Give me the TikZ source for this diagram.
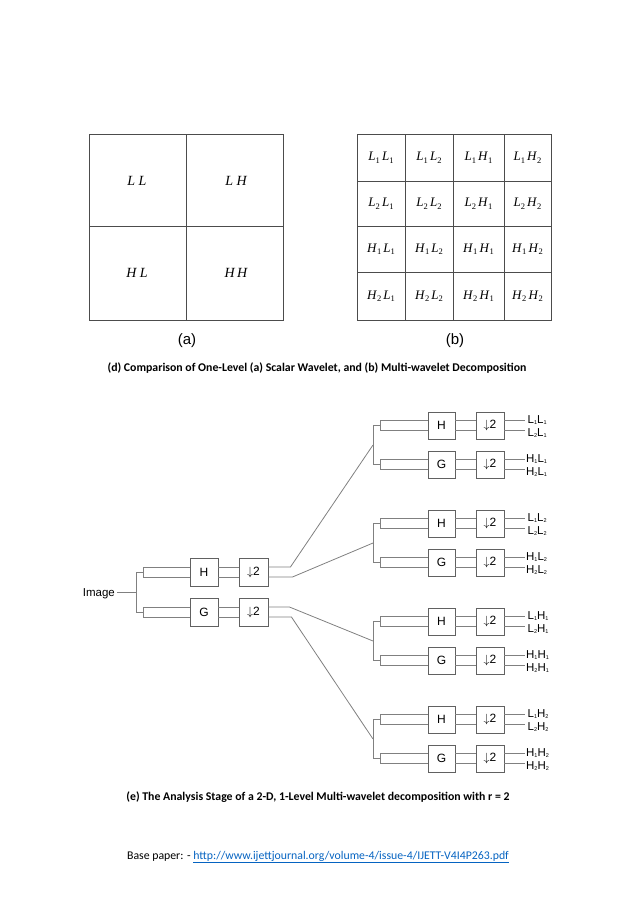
\documentclass[tikz,border=0pt]{standalone}
\usepackage{fontspec}
\setmainfont{Liberation Serif}
\newfontfamily\arialf{Liberation Sans}
\newfontfamily\calif{Carlito}
\usetikzlibrary{calc}
\definecolor{lngray}{gray}{0.5}
\definecolor{bxgray}{gray}{0.38}
\definecolor{gridgray}{gray}{0.3}
\definecolor{linkblue}{RGB}{5,99,193}
\newcommand{\tsub}[1]{\raisebox{-1.8pt}{\fontsize{5.5}{6}\selectfont #1}}
\newcommand{\csub}[1]{\raisebox{-2.5pt}{\fontsize{8.5}{9}\selectfont #1}}
\begin{document}
\begin{tikzpicture}[x=1pt,y=-1pt,
  ln/.style={draw=lngray,line width=0.8pt},
  gridln/.style={draw=gridgray,line width=0.9pt},
  fbox/.style={draw=bxgray,line width=0.9pt,minimum width=27pt,minimum height=27pt,inner sep=0pt,font=\arialf\fontsize{12}{13}\selectfont},
  celltxt/.style={font=\fontsize{14}{16}\selectfont\itshape},
  mcell/.style={font=\fontsize{13}{15}\selectfont},
  sublbl/.style={font=\arialf\fontsize{15}{17}\selectfont},
  outlbl/.style={anchor=base west,inner sep=0pt,font=\arialf\fontsize{11.5}{12}\selectfont},
  capt/.style={font=\calif\bfseries\fontsize{11.8}{13}\selectfont}]
\useasboundingbox (0,0) rectangle (638,902);

% ---------- (a) scalar wavelet grid ----------
\draw[gridln] (89,134) rectangle (283,320);
\draw[gridln] (186,134) -- (186,320);
\draw[gridln] (89,226) -- (283,226);
\node[celltxt] (aLL) at (137,181) {L\ L};
\node[celltxt] (aLH) at (236,181) {L\ H};
\node[celltxt] (aHL) at (137,273) {H\ L};
\node[celltxt] (aHH) at (236,273) {H\,H};
\node[sublbl] (acap) at (187,341) {(a)};

% ---------- (b) multiwavelet grid ----------
\draw[gridln] (357,134) rectangle (551,320);
\foreach \xx in {405,453,504} \draw[gridln] (\xx,134) -- (\xx,320);
\foreach \yy in {181,226,272} \draw[gridln] (357,\yy) -- (551,\yy);
\newcommand{\mc}[4]{\textit{#1}\csub{#2}\,\textit{#3}\csub{#4}}
\foreach \r/\ra/\rb/\yy in {1/L/1/157.5, 2/L/2/203.5, 3/H/1/249, 4/H/2/296}{
  \foreach \c/\ca/\cb/\xx in {1/L/1/381, 2/L/2/429, 3/H/1/478.5, 4/H/2/527.5}{
    \node[mcell] (b\r\c) at (\xx,\yy) {\mc{\ra}{\rb}{\ca}{\cb}};
  }
}
\node[sublbl] (bcap) at (455,341) {(b)};

\node[capt] (dcap) at (317,368) {(d) Comparison of One-Level (a) Scalar Wavelet, and (b) Multi-wavelet Decomposition};

% ---------- (e) analysis stage ----------
\node[anchor=base east,inner sep=2pt,font=\arialf\fontsize{11.5}{13}\selectfont] (img) at (117,596) {Image};
\coordinate (jt) at (136,572);
\coordinate (jm) at (136,592);
\coordinate (jb) at (136,612);
\draw[ln] (img.east |- jm) -- (jm);
\draw[ln] (jt) -- (jb);

\node[fbox,minimum width=28pt,minimum height=28pt] (H0) at (204,572) {H};
\node[fbox,minimum width=29pt,minimum height=28pt] (D0) at (253.5,572) {$\downarrow$2};
\node[fbox,minimum width=28pt,minimum height=28pt] (G0) at (204,612) {G};
\node[fbox,minimum width=29pt,minimum height=28pt] (E0) at (253.5,612) {$\downarrow$2};

\coordinate (bt0) at (143,572);
\coordinate (bb0) at (143,612);
\draw[ln] (jt) -- (bt0);
\draw[ln] (jb) -- (bb0);
\draw[ln] ([yshift=5pt]H0.west) -- ([yshift=5pt]H0.west -| bt0) -- ([yshift=-5pt]H0.west -| bt0) -- ([yshift=-5pt]H0.west);
\draw[ln] ([yshift=5pt]G0.west) -- ([yshift=5pt]G0.west -| bb0) -- ([yshift=-5pt]G0.west -| bb0) -- ([yshift=-5pt]G0.west);
\draw[ln] ([yshift=5pt]H0.east) -- ([yshift=5pt]D0.west);
\draw[ln] ([yshift=-5pt]H0.east) -- ([yshift=-5pt]D0.west);
\draw[ln] ([yshift=5pt]G0.east) -- ([yshift=5pt]E0.west);
\draw[ln] ([yshift=-5pt]G0.east) -- ([yshift=-5pt]E0.west);

\foreach \k/\sa/\sb in {1/L/1, 2/L/2, 3/H/1, 4/H/2}{
  \pgfmathsetmacro{\cH}{425.5+98*(\k-1)}
  \pgfmathsetmacro{\cG}{\cH+39}
  \pgfmathsetmacro{\cM}{\cH+19.5}
  \node[fbox] (H\k) at (441.5,\cH) {H};
  \node[fbox,minimum width=28pt] (D\k) at (490,\cH) {$\downarrow$2};
  \node[fbox] (G\k) at (441.5,\cG) {G};
  \node[fbox,minimum width=28pt] (E\k) at (490,\cG) {$\downarrow$2};
  \coordinate (vt\k) at (373,\cH);
  \coordinate (vb\k) at (373,\cG);
  \coordinate (m\k) at (373,\cM);
  \coordinate (bt\k) at (380,\cH);
  \coordinate (bb\k) at (380,\cG);
  \draw[ln] (vt\k) -- (vb\k);
  \draw[ln] (vt\k) -- (bt\k);
  \draw[ln] (vb\k) -- (bb\k);
  \draw[ln] ([yshift=5pt]H\k.west) -- ([yshift=5pt]H\k.west -| bt\k) -- ([yshift=-5pt]H\k.west -| bt\k) -- ([yshift=-5pt]H\k.west);
  \draw[ln] ([yshift=5pt]G\k.west) -- ([yshift=5pt]G\k.west -| bb\k) -- ([yshift=-5pt]G\k.west -| bb\k) -- ([yshift=-5pt]G\k.west);
  \draw[ln] ([yshift=5pt]H\k.east) -- ([yshift=5pt]D\k.west);
  \draw[ln] ([yshift=-5pt]H\k.east) -- ([yshift=-5pt]D\k.west);
  \draw[ln] ([yshift=5pt]G\k.east) -- ([yshift=5pt]E\k.west);
  \draw[ln] ([yshift=-5pt]G\k.east) -- ([yshift=-5pt]E\k.west);
  \coordinate (o1\k) at ([yshift=5pt,xshift=21pt]D\k.east);
  \coordinate (o2\k) at ([yshift=-5pt,xshift=21pt]D\k.east);
  \coordinate (o3\k) at ([yshift=5pt,xshift=21pt]E\k.east);
  \coordinate (o4\k) at ([yshift=-5pt,xshift=21pt]E\k.east);
  \draw[ln] ([yshift=5pt]D\k.east) -- (o1\k);
  \draw[ln] ([yshift=-5pt]D\k.east) -- (o2\k);
  \draw[ln] ([yshift=5pt]E\k.east) -- (o3\k);
  \draw[ln] ([yshift=-5pt]E\k.east) -- (o4\k);
  \node[outlbl] (l1\k) at ($(o1\k)+(2,2.5)$) {L\tsub{1}\sa\tsub{\sb}};
  \node[outlbl] (l2\k) at ($(o2\k)+(2,5.5)$) {L\tsub{2}\sa\tsub{\sb}};
  \node[outlbl] (l3\k) at ($(o3\k)+(0.5,2.5)$) {H\tsub{1}\sa\tsub{\sb}};
  \node[outlbl] (l4\k) at ($(o4\k)+(0.5,5.5)$) {H\tsub{2}\sa\tsub{\sb}};
}

\draw[ln] ([yshift=5pt]D0.east) -- ++(22,0) -- (m1);
\draw[ln] ([yshift=-5pt]D0.east) -- ++(24,0) -- (m2);
\draw[ln] ([yshift=5pt]E0.east) -- ++(21,0) -- (m3);
\draw[ln] ([yshift=-5pt]E0.east) -- ++(23,0) -- (m4);

\node[capt] (ecap) at (318,797) {(e) The Analysis Stage of a 2-D, 1-Level Multi-wavelet decomposition with r = 2};
\node[font=\calif\fontsize{11.8}{13}\selectfont] (base) at (318,857) {Base paper: - \textcolor{linkblue}{\underline{http://www.ijettjournal.org/volume-4/issue-4/IJETT-V4I4P263.pdf}}};
\end{tikzpicture}
\end{document}
